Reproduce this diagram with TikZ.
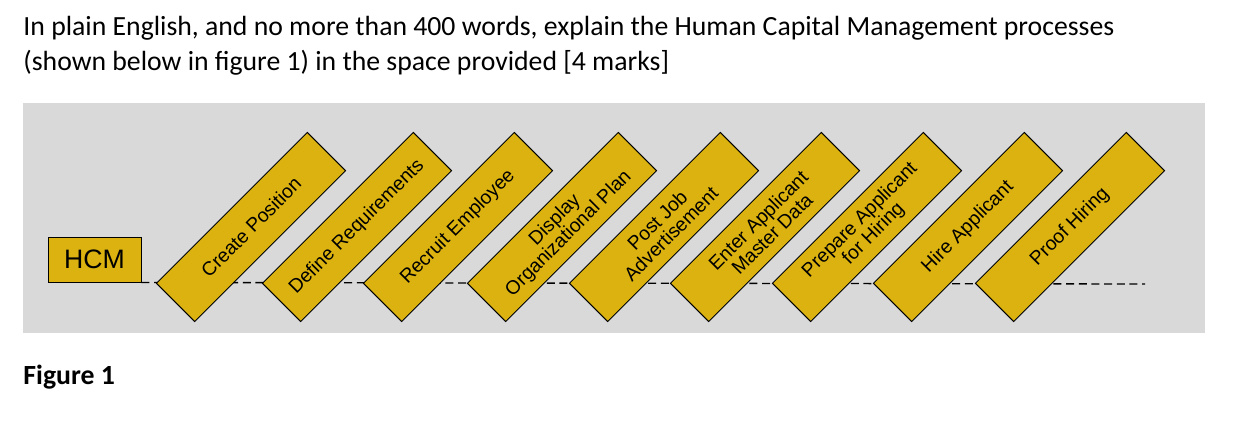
\documentclass[tikz,border=0pt]{standalone}
\usepackage{fontspec}
\setmainfont{Liberation Sans}
\newfontfamily\calfont{Carlito}
\begin{document}
\begin{tikzpicture}[x=0.75pt,y=-0.75pt,
  stepbox/.style={draw=black,fill=gold,rotate=45,minimum width=160pt,minimum height=40.5pt,inner sep=1pt,align=center,font=\fontsize{14.5}{14.5}\selectfont},
  line width=0.7pt]
\definecolor{gold}{HTML}{DBB20F}
\definecolor{bg}{HTML}{D9D9D9}
\useasboundingbox (0,0) rectangle (1243,429);
\fill[white] (0,0) rectangle (1243,429);
\fill[bg] (23,103) rectangle (1205,333);
\node[anchor=base west,inner sep=0,font=\calfont\fontsize{20.8}{22}\selectfont] (t1) at (23,35) {In plain English, and no more than 400 words, explain the Human Capital Management processes};
\node[anchor=base west,inner sep=0,font=\calfont\fontsize{20.8}{22}\selectfont] (t2) at (23,70) {(shown below in figure 1) in the space provided [4 marks]};
\node[anchor=base west,inner sep=0,font=\calfont\bfseries\fontsize{20.8}{22}\selectfont] (fig) at (23,384) {Figure 1};
\node[draw=black,fill=gold,minimum width=69.75pt,minimum height=33.75pt,inner sep=0,font=\fontsize{20}{20}\selectfont] (hcm) at (94.5,259.5) {HCM};
\coordinate (end) at (1145,284);
\draw[line width=1pt,dash pattern=on 6pt off 3.5pt] (hcm.south east) -- (end);
\foreach \x/\n/\t in {156/a/Create Position, 262/b/Define Requirements, 363/c/Recruit Employee, 467/d/{Display\\Organizational Plan}, 569/e/{Post Job\\Advertisement}, 670/f/{Enter Applicant\\Master Data}, 772/g/{Prepare Applicant\\for Hiring}, 873/h/Hire Applicant, 975/i/Proof Hiring}
  \node[stepbox] (\n) at (\x+95,227) {\t};
\end{tikzpicture}
\end{document}
